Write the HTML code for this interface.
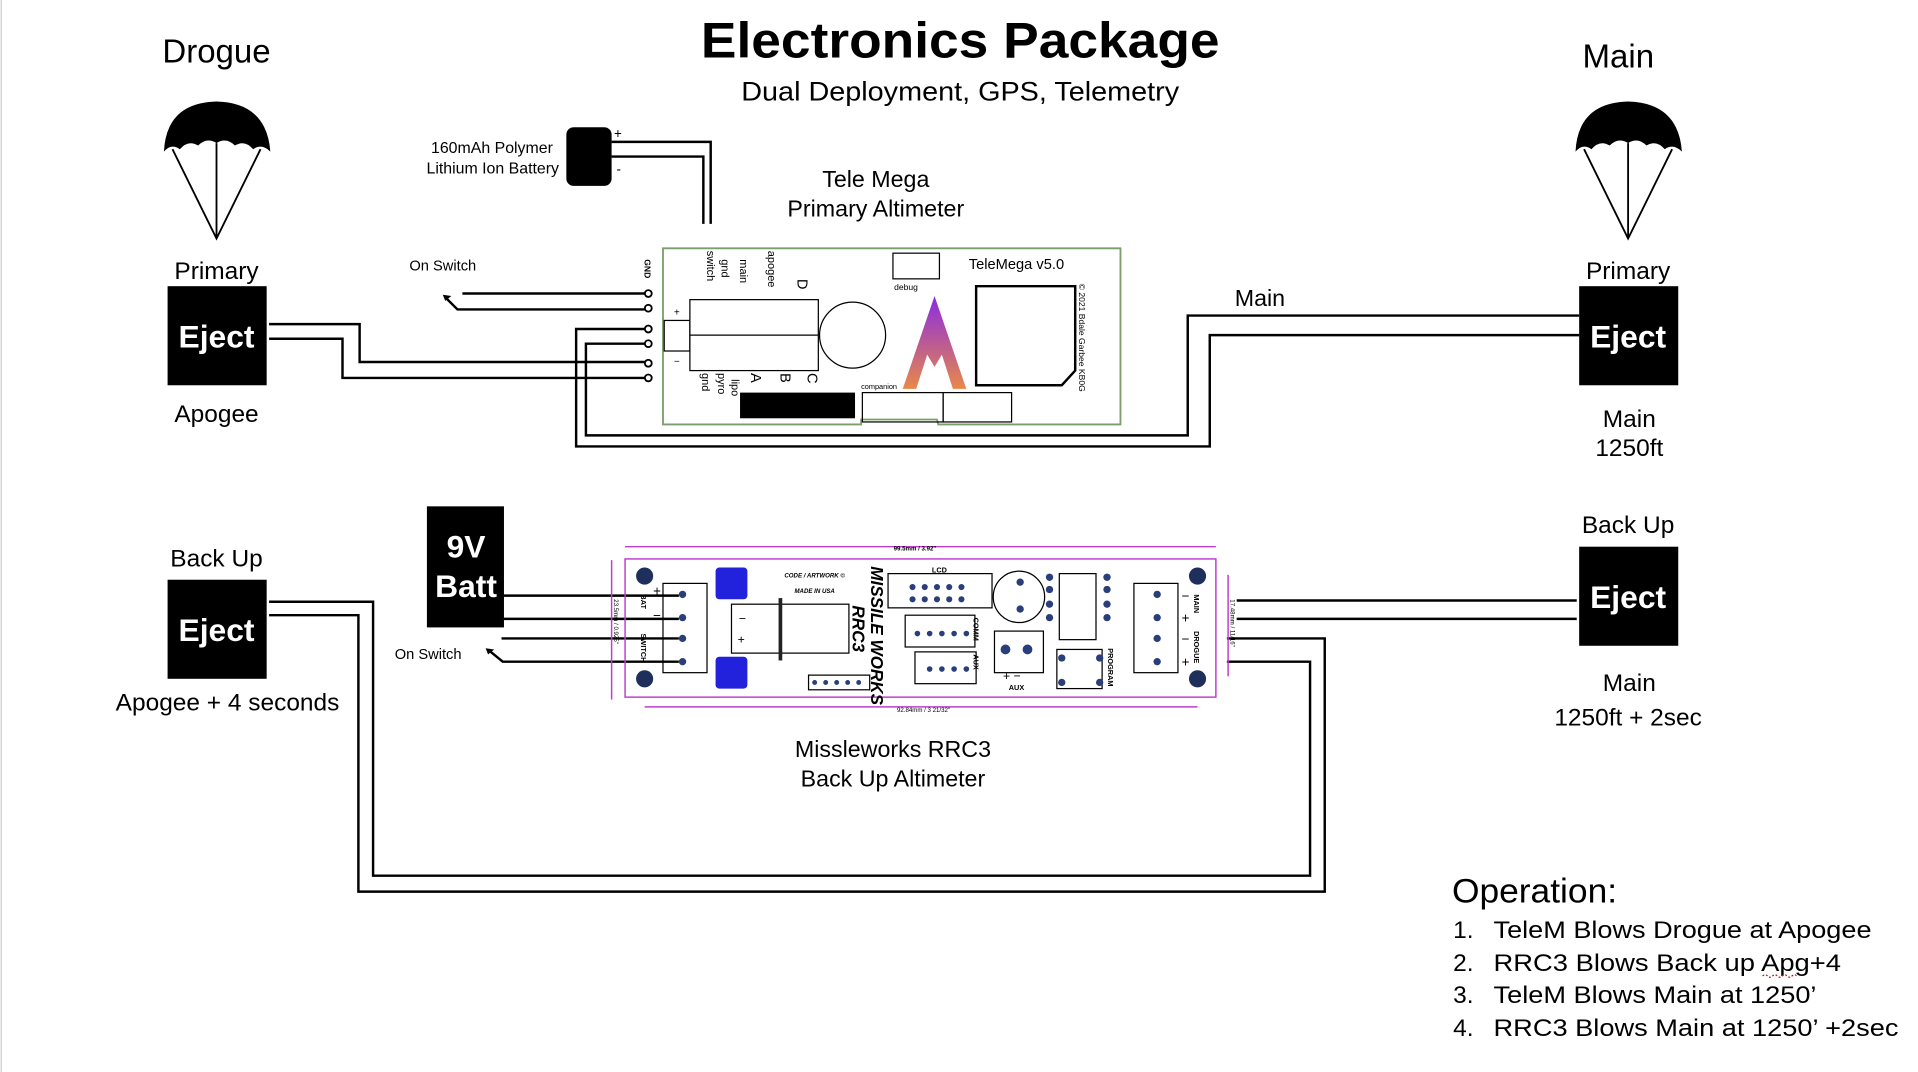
<!DOCTYPE html>
<html><head><meta charset="utf-8"><style>
html,body{margin:0;padding:0;background:#fff;width:1918px;height:1072px;overflow:hidden}
svg{display:block}
text{font-family:"Liberation Sans",sans-serif;fill:#000}
</style></head><body>
<svg width="1918" height="1072" viewBox="0 0 1568 876.5" preserveAspectRatio="none" xmlns="http://www.w3.org/2000/svg">
<defs>
<linearGradient id="g1" x1="0" y1="0" x2="0" y2="1"><stop offset="0" stop-color="#8a2be2"/><stop offset="1" stop-color="#e8884a"/></linearGradient>
</defs>
<line x1="1" y1="0" x2="1" y2="877" stroke="#ccc" stroke-width="1"/>
<text x="785" y="47" font-size="41" font-weight="bold" text-anchor="middle" textLength="424" lengthAdjust="spacingAndGlyphs">Electronics Package</text>
<text x="785" y="82" font-size="22" text-anchor="middle" textLength="358" lengthAdjust="spacingAndGlyphs">Dual Deployment, GPS, Telemetry</text>
<text x="177" y="51" font-size="27" text-anchor="middle">Drogue</text>
<text x="1323" y="55" font-size="27" text-anchor="middle">Main</text>
<g id="chute">
<path d="M134,124 Q136,84 177,83 Q218,84 221,124 Q214,117 207,122 Q200,114 192,119 Q185,112 177,117 Q169,112 162,119 Q154,114 147,122 Q140,117 134,124Z" fill="#000"/>
<path d="M141,122 L177,195 L213,122 M177,117 L177,195" stroke="#000" stroke-width="1.5" fill="none"/>
</g>
<use href="#chute" transform="translate(1154,0)"/>
<g font-size="20" text-anchor="middle">
<text x="177" y="228">Primary</text>
<rect x="137" y="234" width="81" height="81" fill="#000"/>
<text x="177" y="284" font-size="26" font-weight="bold" style="fill:#fff">Eject</text>
<text x="177" y="345">Apogee</text>
<text x="1331" y="228">Primary</text>
<rect x="1291" y="234" width="81" height="81" fill="#000"/>
<text x="1331" y="284" font-size="26" font-weight="bold" style="fill:#fff">Eject</text>
<text x="1332" y="349">Main</text>
<text x="1332" y="373">1250ft</text>
<text x="177" y="463">Back Up</text>
<rect x="137" y="474" width="81" height="81" fill="#000"/>
<text x="177" y="524" font-size="26" font-weight="bold" style="fill:#fff">Eject</text>
<text x="186" y="581">Apogee + 4 seconds</text>
<text x="1331" y="436">Back Up</text>
<rect x="1291" y="447" width="81" height="81" fill="#000"/>
<text x="1331" y="497" font-size="26" font-weight="bold" style="fill:#fff">Eject</text>
<text x="1332" y="565">Main</text>
<text x="1331" y="593">1250ft + 2sec</text>
<rect x="349" y="414" width="63" height="99" fill="#000"/>
<text x="381" y="456" font-size="26" font-weight="bold" style="fill:#fff">9V</text>
<text x="381" y="488" font-size="26" font-weight="bold" style="fill:#fff">Batt</text>
<text x="716" y="153" font-size="19">Tele Mega</text>
<text x="716" y="177" font-size="19">Primary Altimeter</text>
<text x="1030" y="250" font-size="19">Main</text>
<text x="730" y="619" font-size="19">Missleworks RRC3</text>
<text x="730" y="643" font-size="19">Back Up Altimeter</text>
</g>
<rect x="463" y="104" width="37" height="48" rx="6" fill="#000"/>
<text x="502" y="113" font-size="11">+</text>
<text x="504" y="142" font-size="11">-</text>
<text x="452" y="125" font-size="13" text-anchor="end">160mAh Polymer</text>
<text x="457" y="142" font-size="13" text-anchor="end">Lithium Ion Battery</text>
<g fill="none" stroke="#000" stroke-width="2">
<polyline points="500,116 581,116 581,183"/>
<polyline points="500,128 575,128 575,183"/>
<line x1="378" y1="240" x2="527" y2="240"/>
<polyline points="527,253 374,253 364,243"/>
<polyline points="220,265 294,265 294,296 527,296"/>
<polyline points="220,277 280,277 280,309 527,309"/>
<polyline points="527,269 471,269 471,365 989,365 989,274 1291,274"/>
<polyline points="527,281 479,281 479,356 971,356 971,258 1291,258"/>
<line x1="412" y1="487" x2="555" y2="487"/>
<line x1="412" y1="506" x2="555" y2="506"/>
<line x1="410" y1="522" x2="555" y2="522"/>
<polyline points="555,541 411,541 400,532"/>
<polyline points="220,492 305,492 305,716 1071,716 1071,541 1003,541"/>
<polyline points="220,503 293,503 293,729 1083,729 1083,522 1003,522"/>
<line x1="1011" y1="491" x2="1289" y2="491"/>
<line x1="1011" y1="506" x2="1289" y2="506"/>
</g>
<path d="M362,241 l7,1 l-5,4z M397,530 l7,1 l-5,4z" fill="#000"/>
<text x="362" y="221" font-size="12" text-anchor="middle">On Switch</text>
<text x="350" y="539" font-size="12" text-anchor="middle">On Switch</text>
<g fill="#fff" stroke="#000" stroke-width="1.5">
<circle cx="530" cy="240" r="2.8"/><circle cx="530" cy="252" r="2.8"/><circle cx="530" cy="269" r="2.8"/>
<circle cx="530" cy="281" r="2.8"/><circle cx="530" cy="297" r="2.8"/><circle cx="530" cy="309" r="2.8"/>
</g>
<g fill="none" stroke="#000" stroke-width="1">
<path d="M542,203 H916 V347 H767 L766,343 H704 V347 H542Z" stroke="#7a9f6a" stroke-width="1.5"/>
<rect x="543" y="262" width="21" height="25"/>
<rect x="564" y="245" width="105" height="58"/>
<line x1="564" y1="274" x2="669" y2="274"/>
<circle cx="697" cy="274" r="27"/>
<rect x="730" y="207" width="38" height="21"/>
<path d="M798,234 H879 V303 L868,315 H798Z" stroke-width="2"/>
<rect x="705" y="321" width="66" height="24"/><rect x="771" y="321" width="56" height="24"/>
</g>
<rect x="605" y="321" width="94" height="21" fill="#000"/>
<path d="M738,318 L764,242 L790,318 H779 L770,290 L764,300 L758,290 L749,318Z" fill="url(#g1)"/>
<text x="792" y="220" font-size="12" font-family="Liberation Mono">TeleMega v5.0</text>
<text x="731" y="237" font-size="7">debug</text>
<text x="704" y="318" font-size="6">companion</text>
<g font-size="9" font-family="Liberation Mono">
<text transform="translate(628,205) rotate(90)">apogee</text>
<text transform="translate(605,212) rotate(90)">main</text>
<text transform="translate(590,212) rotate(90)">gnd</text>
<text transform="translate(578,205) rotate(90)">switch</text>
<text transform="translate(652,228) rotate(90)" font-size="12">D</text>
<text transform="translate(527,212) rotate(90)" font-size="7" font-weight="bold">GND</text>
<text transform="translate(882,232) rotate(90)" font-size="7">© 2021 Bdale Garbee KB0G</text>
<text x="551" y="258" font-size="8">+</text><text x="551" y="298" font-size="8">−</text>
<text transform="translate(660,305) rotate(90)" font-size="12">C</text>
<text transform="translate(638,305) rotate(90)" font-size="12">B</text>
<text transform="translate(614,305) rotate(90)" font-size="12">A</text>
<text transform="translate(574,305) rotate(90)">gnd</text>
<text transform="translate(587,305) rotate(90)">pyro</text>
<text transform="translate(598,310) rotate(90)">lipo</text>
</g>
<g stroke="#c03cd0" fill="none" stroke-width="1.2">
<rect x="511" y="457" width="483" height="113"/>
<line x1="511" y1="447" x2="994" y2="447"/>
<line x1="527" y1="578" x2="979" y2="578"/>
<line x1="500" y1="458" x2="500" y2="572"/>
<line x1="1004" y1="470" x2="1004" y2="553"/>
</g>
<text x="748" y="450" font-size="5" text-anchor="middle" font-weight="bold">99.5mm / 3.92"</text>
<text x="755" y="582" font-size="5" text-anchor="middle">92.84mm / 3 21/32"</text>
<g fill="#1d2f5a">
<circle cx="527" cy="471" r="7"/><circle cx="527" cy="555" r="7"/><circle cx="979" cy="471" r="7"/><circle cx="979" cy="555" r="7"/>
</g>
<rect x="585" y="464" width="26" height="26" rx="3" fill="#2222dd"/>
<rect x="585" y="537" width="26" height="26" rx="3" fill="#2222dd"/>
<g fill="none" stroke="#000" stroke-width="1">
<rect x="542" y="477" width="36" height="73"/>
<rect x="598" y="494" width="96" height="40"/>
<rect x="726" y="469" width="85" height="28"/>
<rect x="740" y="503" width="57" height="26"/>
<rect x="748" y="533" width="50" height="26"/>
<circle cx="833" cy="488" r="21"/>
<rect x="813" y="516" width="40" height="34"/>
<rect x="864" y="531" width="37" height="32"/>
<rect x="866" y="469" width="30" height="54"/>
<rect x="927" y="477" width="36" height="73"/>
<rect x="661" y="552" width="50" height="12"/>
</g>
<line x1="638" y1="489" x2="638" y2="540" stroke="#222" stroke-width="3"/>
<g fill="#2a3f7a">
<circle cx="558" cy="486" r="3"/><circle cx="558" cy="505" r="3"/><circle cx="558" cy="522" r="3"/><circle cx="558" cy="541" r="3"/>
<circle cx="946" cy="486" r="3"/><circle cx="946" cy="505" r="3"/><circle cx="946" cy="522" r="3"/><circle cx="946" cy="541" r="3"/>
<circle cx="746" cy="480" r="2.5"/><circle cx="756" cy="480" r="2.5"/><circle cx="766" cy="480" r="2.5"/><circle cx="776" cy="480" r="2.5"/><circle cx="786" cy="480" r="2.5"/>
<circle cx="746" cy="490" r="2.5"/><circle cx="756" cy="490" r="2.5"/><circle cx="766" cy="490" r="2.5"/><circle cx="776" cy="490" r="2.5"/><circle cx="786" cy="490" r="2.5"/>
<circle cx="750" cy="518" r="2.3"/><circle cx="760" cy="518" r="2.3"/><circle cx="770" cy="518" r="2.3"/><circle cx="780" cy="518" r="2.3"/><circle cx="790" cy="518" r="2.3"/>
<circle cx="760" cy="547" r="2.3"/><circle cx="770" cy="547" r="2.3"/><circle cx="780" cy="547" r="2.3"/><circle cx="790" cy="547" r="2.3"/>
<circle cx="822" cy="531" r="4"/><circle cx="840" cy="531" r="4"/>
<circle cx="834" cy="476" r="3"/><circle cx="834" cy="498" r="3"/>
<circle cx="858" cy="472" r="3"/><circle cx="858" cy="482" r="3"/><circle cx="858" cy="494" r="3"/><circle cx="858" cy="505" r="3"/>
<circle cx="905" cy="472" r="3"/><circle cx="905" cy="482" r="3"/><circle cx="905" cy="494" r="3"/><circle cx="905" cy="505" r="3"/>
<circle cx="868" cy="538" r="3"/><circle cx="868" cy="558" r="3"/><circle cx="899" cy="538" r="3"/><circle cx="899" cy="558" r="3"/>
<circle cx="666" cy="558" r="2"/><circle cx="675" cy="558" r="2"/><circle cx="684" cy="558" r="2"/><circle cx="693" cy="558" r="2"/><circle cx="702" cy="558" r="2"/>
</g>
<text transform="translate(712,463) rotate(90)" font-size="14" font-weight="bold" font-style="italic">MISSILE WORKS</text>
<text transform="translate(697,495) rotate(90)" font-size="14" font-weight="bold" font-style="italic">RRC3</text>
<text x="666" y="472" font-size="5" text-anchor="middle" font-weight="bold" font-style="italic">CODE / ARTWORK ©</text>
<text x="666" y="485" font-size="5" text-anchor="middle" font-weight="bold" font-style="italic">MADE IN USA</text>
<text x="768" y="468" font-size="6" text-anchor="middle" font-weight="bold">LCD</text>
<text x="831" y="564" font-size="6" text-anchor="middle" font-weight="bold">AUX</text>
<text x="820" y="556" font-size="10">+ −</text>
<text x="534" y="487" font-size="11">+</text><text x="534" y="507" font-size="11">−</text>
<text x="604" y="509" font-size="10">−</text><text x="603" y="526" font-size="10">+</text>
<text x="966" y="491" font-size="11">−</text><text x="966" y="509" font-size="11">+</text><text x="966" y="526" font-size="11">−</text><text x="966" y="545" font-size="11">+</text>
<g font-size="6" font-weight="bold">
<text transform="translate(524,486) rotate(90)">BAT</text>
<text transform="translate(524,518) rotate(90)">SWITCH</text>
<text transform="translate(976,486) rotate(90)">MAIN</text>
<text transform="translate(976,516) rotate(90)">DROGUE</text>
<text transform="translate(906,530) rotate(90)">PROGRAM</text>
<text transform="translate(796,505) rotate(90)">COMM</text>
<text transform="translate(796,535) rotate(90)">AUX</text>
<text transform="translate(502,490) rotate(90)" font-weight="normal" font-size="5">23.5mm / 0.925"</text>
<text transform="translate(1006,490) rotate(90)" font-weight="normal" font-size="5">17.48mm / 11/16"</text>
</g>
<text x="1187" y="738" font-size="28" textLength="135" lengthAdjust="spacingAndGlyphs">Operation:</text>
<g font-size="20">
<text x="1188" y="767">1.</text><text x="1221" y="767" textLength="309" lengthAdjust="spacingAndGlyphs">TeleM Blows Drogue at Apogee</text>
<text x="1188" y="794">2.</text><text x="1221" y="794" textLength="284" lengthAdjust="spacingAndGlyphs">RRC3 Blows Back up Apg+4</text>
<text x="1188" y="820">3.</text><text x="1221" y="820" textLength="264" lengthAdjust="spacingAndGlyphs">TeleM Blows Main at 1250’</text>
<text x="1188" y="847">4.</text><text x="1221" y="847" textLength="331" lengthAdjust="spacingAndGlyphs">RRC3 Blows Main at 1250’ +2sec</text>
</g>
<path d="M1441,798 q2,-2 4,0 t4,0 t4,0 t4,0 t4,0 t4,0 t4,0" stroke="#d00" fill="none" stroke-width="1" stroke-dasharray="1.5,1.5"/>
</svg>
</body></html>
